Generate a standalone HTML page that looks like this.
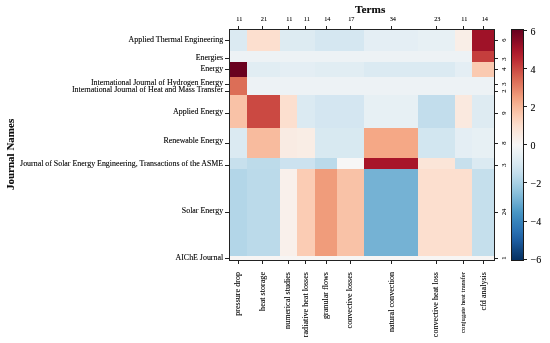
<!DOCTYPE html><html><head><meta charset="utf-8"><style>
html,body{margin:0;padding:0;background:#fff;}
body{width:550px;height:343px;position:relative;overflow:hidden;font-family:"Liberation Serif","Times New Roman",serif;color:#000;}
.c{position:absolute;}
.t{position:absolute;white-space:nowrap;line-height:1;color:#111;text-shadow:0 0 0.4px rgba(0,0,0,0.45);}
.tk{position:absolute;background:#222;}
</style></head><body>
<div class="c" style="left:229.00px;top:29.40px;width:17.80px;height:21.90px;background:#dbeaf2"></div>
<div class="c" style="left:246.50px;top:29.40px;width:33.60px;height:21.90px;background:#fcdfcf"></div>
<div class="c" style="left:279.80px;top:29.40px;width:17.80px;height:21.90px;background:#ddebf2"></div>
<div class="c" style="left:297.30px;top:29.40px;width:18.00px;height:21.90px;background:#ddebf2"></div>
<div class="c" style="left:315.00px;top:29.40px;width:22.30px;height:21.90px;background:#d5e7f1"></div>
<div class="c" style="left:337.00px;top:29.40px;width:27.50px;height:21.90px;background:#d5e7f1"></div>
<div class="c" style="left:364.20px;top:29.40px;width:54.20px;height:21.90px;background:#e4eef4"></div>
<div class="c" style="left:418.10px;top:29.40px;width:36.80px;height:21.90px;background:#e7f0f4"></div>
<div class="c" style="left:454.60px;top:29.40px;width:18.10px;height:21.90px;background:#f9eee7"></div>
<div class="c" style="left:472.40px;top:29.40px;width:22.70px;height:21.90px;background:#9f1228"></div>
<div class="c" style="left:229.00px;top:51.00px;width:17.80px;height:11.60px;background:#edf2f5"></div>
<div class="c" style="left:246.50px;top:51.00px;width:33.60px;height:11.60px;background:#edf2f5"></div>
<div class="c" style="left:279.80px;top:51.00px;width:17.80px;height:11.60px;background:#edf2f5"></div>
<div class="c" style="left:297.30px;top:51.00px;width:18.00px;height:11.60px;background:#edf2f5"></div>
<div class="c" style="left:315.00px;top:51.00px;width:22.30px;height:11.60px;background:#edf2f5"></div>
<div class="c" style="left:337.00px;top:51.00px;width:27.50px;height:11.60px;background:#edf2f5"></div>
<div class="c" style="left:364.20px;top:51.00px;width:54.20px;height:11.60px;background:#edf2f5"></div>
<div class="c" style="left:418.10px;top:51.00px;width:36.80px;height:11.60px;background:#edf2f5"></div>
<div class="c" style="left:454.60px;top:51.00px;width:18.10px;height:11.60px;background:#edf2f5"></div>
<div class="c" style="left:472.40px;top:51.00px;width:22.70px;height:11.60px;background:#c53e3d"></div>
<div class="c" style="left:229.00px;top:62.30px;width:17.80px;height:14.80px;background:#6a011f"></div>
<div class="c" style="left:246.50px;top:62.30px;width:33.60px;height:14.80px;background:#e1edf3"></div>
<div class="c" style="left:279.80px;top:62.30px;width:17.80px;height:14.80px;background:#e4eef4"></div>
<div class="c" style="left:297.30px;top:62.30px;width:18.00px;height:14.80px;background:#e4eef4"></div>
<div class="c" style="left:315.00px;top:62.30px;width:22.30px;height:14.80px;background:#e1edf3"></div>
<div class="c" style="left:337.00px;top:62.30px;width:27.50px;height:14.80px;background:#e1edf3"></div>
<div class="c" style="left:364.20px;top:62.30px;width:54.20px;height:14.80px;background:#dbeaf2"></div>
<div class="c" style="left:418.10px;top:62.30px;width:36.80px;height:14.80px;background:#dbeaf2"></div>
<div class="c" style="left:454.60px;top:62.30px;width:18.10px;height:14.80px;background:#e4eef4"></div>
<div class="c" style="left:472.40px;top:62.30px;width:22.70px;height:14.80px;background:#facab1"></div>
<div class="c" style="left:229.00px;top:76.80px;width:17.80px;height:11.50px;background:#dc6e57"></div>
<div class="c" style="left:246.50px;top:76.80px;width:33.60px;height:11.50px;background:#edf2f5"></div>
<div class="c" style="left:279.80px;top:76.80px;width:17.80px;height:11.50px;background:#edf2f5"></div>
<div class="c" style="left:297.30px;top:76.80px;width:18.00px;height:11.50px;background:#edf2f5"></div>
<div class="c" style="left:315.00px;top:76.80px;width:22.30px;height:11.50px;background:#edf2f5"></div>
<div class="c" style="left:337.00px;top:76.80px;width:27.50px;height:11.50px;background:#edf2f5"></div>
<div class="c" style="left:364.20px;top:76.80px;width:54.20px;height:11.50px;background:#edf2f5"></div>
<div class="c" style="left:418.10px;top:76.80px;width:36.80px;height:11.50px;background:#edf2f5"></div>
<div class="c" style="left:454.60px;top:76.80px;width:18.10px;height:11.50px;background:#edf2f5"></div>
<div class="c" style="left:472.40px;top:76.80px;width:22.70px;height:11.50px;background:#edf2f5"></div>
<div class="c" style="left:229.00px;top:88.00px;width:17.80px;height:7.50px;background:#dc6e57"></div>
<div class="c" style="left:246.50px;top:88.00px;width:33.60px;height:7.50px;background:#edf2f5"></div>
<div class="c" style="left:279.80px;top:88.00px;width:17.80px;height:7.50px;background:#edf2f5"></div>
<div class="c" style="left:297.30px;top:88.00px;width:18.00px;height:7.50px;background:#edf2f5"></div>
<div class="c" style="left:315.00px;top:88.00px;width:22.30px;height:7.50px;background:#edf2f5"></div>
<div class="c" style="left:337.00px;top:88.00px;width:27.50px;height:7.50px;background:#edf2f5"></div>
<div class="c" style="left:364.20px;top:88.00px;width:54.20px;height:7.50px;background:#edf2f5"></div>
<div class="c" style="left:418.10px;top:88.00px;width:36.80px;height:7.50px;background:#edf2f5"></div>
<div class="c" style="left:454.60px;top:88.00px;width:18.10px;height:7.50px;background:#edf2f5"></div>
<div class="c" style="left:472.40px;top:88.00px;width:22.70px;height:7.50px;background:#edf2f5"></div>
<div class="c" style="left:229.00px;top:95.20px;width:17.80px;height:33.20px;background:#f9c2a7"></div>
<div class="c" style="left:246.50px;top:95.20px;width:33.60px;height:33.20px;background:#cb4942"></div>
<div class="c" style="left:279.80px;top:95.20px;width:17.80px;height:33.20px;background:#fcdfcf"></div>
<div class="c" style="left:297.30px;top:95.20px;width:18.00px;height:33.20px;background:#dbeaf2"></div>
<div class="c" style="left:315.00px;top:95.20px;width:22.30px;height:33.20px;background:#d4e6f1"></div>
<div class="c" style="left:337.00px;top:95.20px;width:27.50px;height:33.20px;background:#d4e6f1"></div>
<div class="c" style="left:364.20px;top:95.20px;width:54.20px;height:33.20px;background:#e7f0f4"></div>
<div class="c" style="left:418.10px;top:95.20px;width:36.80px;height:33.20px;background:#c2ddec"></div>
<div class="c" style="left:454.60px;top:95.20px;width:18.10px;height:33.20px;background:#fae9df"></div>
<div class="c" style="left:472.40px;top:95.20px;width:22.70px;height:33.20px;background:#deebf2"></div>
<div class="c" style="left:229.00px;top:128.10px;width:17.80px;height:30.00px;background:#dbeaf2"></div>
<div class="c" style="left:246.50px;top:128.10px;width:33.60px;height:30.00px;background:#f8bb9e"></div>
<div class="c" style="left:279.80px;top:128.10px;width:17.80px;height:30.00px;background:#f9ebe3"></div>
<div class="c" style="left:297.30px;top:128.10px;width:18.00px;height:30.00px;background:#f9ede5"></div>
<div class="c" style="left:315.00px;top:128.10px;width:22.30px;height:30.00px;background:#d8e9f1"></div>
<div class="c" style="left:337.00px;top:128.10px;width:27.50px;height:30.00px;background:#d8e9f1"></div>
<div class="c" style="left:364.20px;top:128.10px;width:54.20px;height:30.00px;background:#f5a886"></div>
<div class="c" style="left:418.10px;top:128.10px;width:36.80px;height:30.00px;background:#d2e6f0"></div>
<div class="c" style="left:454.60px;top:128.10px;width:18.10px;height:30.00px;background:#e4eef4"></div>
<div class="c" style="left:472.40px;top:128.10px;width:22.70px;height:30.00px;background:#e7f0f4"></div>
<div class="c" style="left:229.00px;top:157.80px;width:17.80px;height:11.00px;background:#c7e0ed"></div>
<div class="c" style="left:246.50px;top:157.80px;width:33.60px;height:11.00px;background:#bddbea"></div>
<div class="c" style="left:279.80px;top:157.80px;width:17.80px;height:11.00px;background:#cce2ef"></div>
<div class="c" style="left:297.30px;top:157.80px;width:18.00px;height:11.00px;background:#cce2ef"></div>
<div class="c" style="left:315.00px;top:157.80px;width:22.30px;height:11.00px;background:#bbdaea"></div>
<div class="c" style="left:337.00px;top:157.80px;width:27.50px;height:11.00px;background:#f7f6f6"></div>
<div class="c" style="left:364.20px;top:157.80px;width:54.20px;height:11.00px;background:#a81529"></div>
<div class="c" style="left:418.10px;top:157.80px;width:36.80px;height:11.00px;background:#fbe5d8"></div>
<div class="c" style="left:454.60px;top:157.80px;width:18.10px;height:11.00px;background:#c7e0ed"></div>
<div class="c" style="left:472.40px;top:157.80px;width:22.70px;height:11.00px;background:#dbeaf2"></div>
<div class="c" style="left:229.00px;top:168.50px;width:17.80px;height:88.10px;background:#b3d6e8"></div>
<div class="c" style="left:246.50px;top:168.50px;width:33.60px;height:88.10px;background:#bbdaea"></div>
<div class="c" style="left:279.80px;top:168.50px;width:17.80px;height:88.10px;background:#f9f0eb"></div>
<div class="c" style="left:297.30px;top:168.50px;width:18.00px;height:88.10px;background:#fbccb4"></div>
<div class="c" style="left:315.00px;top:168.50px;width:22.30px;height:88.10px;background:#f09c7b"></div>
<div class="c" style="left:337.00px;top:168.50px;width:27.50px;height:88.10px;background:#f9c2a7"></div>
<div class="c" style="left:364.20px;top:168.50px;width:54.20px;height:88.10px;background:#75b2d4"></div>
<div class="c" style="left:418.10px;top:168.50px;width:36.80px;height:88.10px;background:#fcdfcf"></div>
<div class="c" style="left:454.60px;top:168.50px;width:18.10px;height:88.10px;background:#fcdfcf"></div>
<div class="c" style="left:472.40px;top:168.50px;width:22.70px;height:88.10px;background:#c5dfec"></div>
<div class="c" style="left:229.00px;top:256.30px;width:17.80px;height:4.00px;background:#f7f5f4"></div>
<div class="c" style="left:246.50px;top:256.30px;width:33.60px;height:4.00px;background:#f7f5f4"></div>
<div class="c" style="left:279.80px;top:256.30px;width:17.80px;height:4.00px;background:#f7f5f4"></div>
<div class="c" style="left:297.30px;top:256.30px;width:18.00px;height:4.00px;background:#f7f5f4"></div>
<div class="c" style="left:315.00px;top:256.30px;width:22.30px;height:4.00px;background:#f7f5f4"></div>
<div class="c" style="left:337.00px;top:256.30px;width:27.50px;height:4.00px;background:#f7f5f4"></div>
<div class="c" style="left:364.20px;top:256.30px;width:54.20px;height:4.00px;background:#f7f5f4"></div>
<div class="c" style="left:418.10px;top:256.30px;width:36.80px;height:4.00px;background:#f7f5f4"></div>
<div class="c" style="left:454.60px;top:256.30px;width:18.10px;height:4.00px;background:#f7f5f4"></div>
<div class="c" style="left:472.40px;top:256.30px;width:22.70px;height:4.00px;background:#f7f5f4"></div>
<div class="tk" style="left:228.50px;top:28.90px;width:266.80px;height:1.0px"></div>
<div class="tk" style="left:228.50px;top:259.50px;width:266.80px;height:1.0px"></div>
<div class="tk" style="left:228.50px;top:28.90px;width:1.0px;height:231.60px"></div>
<div class="tk" style="left:494.30px;top:28.90px;width:1.0px;height:231.60px"></div>
<div class="tk" style="left:237.60px;top:25.90px;width:0.8px;height:3.5px"></div>
<div class="tk" style="left:237.60px;top:260.50px;width:0.8px;height:3.5px"></div>
<div class="t" style="left:219.30px;width:40px;text-align:center;top:15.64px;font-size:6.3px">11</div>
<div class="t" style="left:238.30px;top:272.2px;font-size:8.1px;transform-origin:0 0;transform:rotate(-90deg) translate(-100%,-50%);line-height:1.15">pressure drop</div>
<div class="tk" style="left:262.20px;top:25.90px;width:0.8px;height:3.5px"></div>
<div class="tk" style="left:262.20px;top:260.50px;width:0.8px;height:3.5px"></div>
<div class="t" style="left:243.90px;width:40px;text-align:center;top:15.64px;font-size:6.3px">21</div>
<div class="t" style="left:262.90px;top:272.2px;font-size:8.1px;transform-origin:0 0;transform:rotate(-90deg) translate(-100%,-50%);line-height:1.15">heat storage</div>
<div class="tk" style="left:287.60px;top:25.90px;width:0.8px;height:3.5px"></div>
<div class="tk" style="left:287.60px;top:260.50px;width:0.8px;height:3.5px"></div>
<div class="t" style="left:269.30px;width:40px;text-align:center;top:15.64px;font-size:6.3px">11</div>
<div class="t" style="left:288.30px;top:272.2px;font-size:8.1px;transform-origin:0 0;transform:rotate(-90deg) translate(-100%,-50%);line-height:1.15">numerical studies</div>
<div class="tk" style="left:305.10px;top:25.90px;width:0.8px;height:3.5px"></div>
<div class="tk" style="left:305.10px;top:260.50px;width:0.8px;height:3.5px"></div>
<div class="t" style="left:286.80px;width:40px;text-align:center;top:15.64px;font-size:6.3px">11</div>
<div class="t" style="left:305.80px;top:272.2px;font-size:8.1px;transform-origin:0 0;transform:rotate(-90deg) translate(-100%,-50%);line-height:1.15">radiative heat losses</div>
<div class="tk" style="left:325.60px;top:25.90px;width:0.8px;height:3.5px"></div>
<div class="tk" style="left:325.60px;top:260.50px;width:0.8px;height:3.5px"></div>
<div class="t" style="left:307.30px;width:40px;text-align:center;top:15.64px;font-size:6.3px">14</div>
<div class="t" style="left:326.30px;top:272.2px;font-size:8.1px;transform-origin:0 0;transform:rotate(-90deg) translate(-100%,-50%);line-height:1.15">granular flows</div>
<div class="tk" style="left:349.60px;top:25.90px;width:0.8px;height:3.5px"></div>
<div class="tk" style="left:349.60px;top:260.50px;width:0.8px;height:3.5px"></div>
<div class="t" style="left:331.30px;width:40px;text-align:center;top:15.64px;font-size:6.3px">17</div>
<div class="t" style="left:350.30px;top:272.2px;font-size:8.1px;transform-origin:0 0;transform:rotate(-90deg) translate(-100%,-50%);line-height:1.15">convective losses</div>
<div class="tk" style="left:391.10px;top:25.90px;width:0.8px;height:3.5px"></div>
<div class="tk" style="left:391.10px;top:260.50px;width:0.8px;height:3.5px"></div>
<div class="t" style="left:372.80px;width:40px;text-align:center;top:15.64px;font-size:6.3px">34</div>
<div class="t" style="left:391.80px;top:272.2px;font-size:8.1px;transform-origin:0 0;transform:rotate(-90deg) translate(-100%,-50%);line-height:1.15">natural convection</div>
<div class="tk" style="left:435.60px;top:25.90px;width:0.8px;height:3.5px"></div>
<div class="tk" style="left:435.60px;top:260.50px;width:0.8px;height:3.5px"></div>
<div class="t" style="left:417.30px;width:40px;text-align:center;top:15.64px;font-size:6.3px">23</div>
<div class="t" style="left:436.30px;top:272.2px;font-size:8.1px;transform-origin:0 0;transform:rotate(-90deg) translate(-100%,-50%);line-height:1.15">convective heat loss</div>
<div class="tk" style="left:462.60px;top:25.90px;width:0.8px;height:3.5px"></div>
<div class="tk" style="left:462.60px;top:260.50px;width:0.8px;height:3.5px"></div>
<div class="t" style="left:444.30px;width:40px;text-align:center;top:15.64px;font-size:6.3px">11</div>
<div class="t" style="left:463.30px;top:272.2px;font-size:6.7px;transform-origin:0 0;transform:rotate(-90deg) translate(-100%,-50%);line-height:1.15">conjugate heat transfer</div>
<div class="tk" style="left:483.10px;top:25.90px;width:0.8px;height:3.5px"></div>
<div class="tk" style="left:483.10px;top:260.50px;width:0.8px;height:3.5px"></div>
<div class="t" style="left:464.80px;width:40px;text-align:center;top:15.64px;font-size:6.3px">14</div>
<div class="t" style="left:483.80px;top:272.2px;font-size:8.1px;transform-origin:0 0;transform:rotate(-90deg) translate(-100%,-50%);line-height:1.15">cfd analysis</div>
<div class="tk" style="left:225.20px;top:40.00px;width:3.5px;height:0.8px"></div>
<div class="tk" style="left:495.20px;top:40.00px;width:3.0px;height:0.8px"></div>
<div class="t" style="right:326.90px;top:35.78px;font-size:7.9px">Applied Thermal Engineering</div>
<div class="t" style="left:504.3px;top:40.40px;font-size:6.6px;transform:translate(-50%,-50%) rotate(-90deg)">6</div>
<div class="tk" style="left:225.20px;top:58.30px;width:3.5px;height:0.8px"></div>
<div class="tk" style="left:495.20px;top:58.30px;width:3.0px;height:0.8px"></div>
<div class="t" style="right:326.90px;top:54.08px;font-size:7.9px">Energies</div>
<div class="t" style="left:504.3px;top:58.70px;font-size:6.6px;transform:translate(-50%,-50%) rotate(-90deg)">3</div>
<div class="tk" style="left:225.20px;top:69.00px;width:3.5px;height:0.8px"></div>
<div class="tk" style="left:495.20px;top:69.00px;width:3.0px;height:0.8px"></div>
<div class="t" style="right:326.90px;top:65.38px;font-size:7.9px">Energy</div>
<div class="t" style="left:504.3px;top:69.40px;font-size:6.6px;transform:translate(-50%,-50%) rotate(-90deg)">4</div>
<div class="tk" style="left:225.20px;top:83.60px;width:3.5px;height:0.8px"></div>
<div class="tk" style="left:495.20px;top:83.60px;width:3.0px;height:0.8px"></div>
<div class="t" style="right:326.90px;top:78.88px;font-size:7.9px">International Journal of Hydrogen Energy</div>
<div class="t" style="left:504.3px;top:84.00px;font-size:6.6px;transform:translate(-50%,-50%) rotate(-90deg)">3</div>
<div class="tk" style="left:225.20px;top:91.00px;width:3.5px;height:0.8px"></div>
<div class="tk" style="left:495.20px;top:91.00px;width:3.0px;height:0.8px"></div>
<div class="t" style="right:326.90px;top:86.48px;font-size:7.9px">International Journal of Heat and Mass Transfer</div>
<div class="t" style="left:504.3px;top:91.40px;font-size:6.6px;transform:translate(-50%,-50%) rotate(-90deg)">2</div>
<div class="tk" style="left:225.20px;top:112.80px;width:3.5px;height:0.8px"></div>
<div class="tk" style="left:495.20px;top:112.80px;width:3.0px;height:0.8px"></div>
<div class="t" style="right:326.90px;top:108.08px;font-size:7.9px">Applied Energy</div>
<div class="t" style="left:504.3px;top:113.20px;font-size:6.6px;transform:translate(-50%,-50%) rotate(-90deg)">9</div>
<div class="tk" style="left:225.20px;top:142.50px;width:3.5px;height:0.8px"></div>
<div class="tk" style="left:495.20px;top:142.50px;width:3.0px;height:0.8px"></div>
<div class="t" style="right:326.90px;top:137.18px;font-size:7.9px">Renewable Energy</div>
<div class="t" style="left:504.3px;top:142.90px;font-size:6.6px;transform:translate(-50%,-50%) rotate(-90deg)">8</div>
<div class="tk" style="left:225.20px;top:164.80px;width:3.5px;height:0.8px"></div>
<div class="tk" style="left:495.20px;top:164.80px;width:3.0px;height:0.8px"></div>
<div class="t" style="right:326.90px;top:159.88px;font-size:7.9px">Journal of Solar Energy Engineering, Transactions of the ASME</div>
<div class="t" style="left:504.3px;top:165.20px;font-size:6.6px;transform:translate(-50%,-50%) rotate(-90deg)">3</div>
<div class="tk" style="left:225.20px;top:211.90px;width:3.5px;height:0.8px"></div>
<div class="tk" style="left:495.20px;top:211.90px;width:3.0px;height:0.8px"></div>
<div class="t" style="right:326.90px;top:206.88px;font-size:7.9px">Solar Energy</div>
<div class="t" style="left:504.3px;top:212.30px;font-size:6.6px;transform:translate(-50%,-50%) rotate(-90deg)">24</div>
<div class="tk" style="left:225.20px;top:257.90px;width:3.5px;height:0.8px"></div>
<div class="tk" style="left:495.20px;top:257.90px;width:3.0px;height:0.8px"></div>
<div class="t" style="right:326.90px;top:253.68px;font-size:7.9px">AIChE Journal</div>
<div class="t" style="left:504.3px;top:258.30px;font-size:6.6px;transform:translate(-50%,-50%) rotate(-90deg)">1</div>
<div class="c" style="left:511.00px;top:29.20px;width:13.20px;height:231.40px;background:linear-gradient(to bottom,#67001f 0.00%,#840924 4.17%,#a51429 8.33%,#ba2832 12.50%,#c94741 16.67%,#d86551 20.83%,#e48066 25.00%,#f19e7d 29.17%,#f7b799 33.33%,#fbccb4 37.50%,#fcdfcf 41.67%,#f9ebe3 45.83%,#f7f6f6 50.00%,#e7f0f4 54.17%,#d7e8f1 58.33%,#c2ddec 62.50%,#a7d0e4 66.67%,#8ac0db 70.83%,#6bacd1 75.00%,#4997c5 79.17%,#3783bb 83.33%,#2a71b2 87.50%,#1c5c9f 91.67%,#10457e 95.83%,#053061 100.00%);box-sizing:border-box;border:0.8px solid #1a1a1a"></div>
<div class="tk" style="left:524.20px;top:30.05px;width:2.9px;height:0.9px"></div>
<div class="t" style="left:530.6px;top:26.52px;font-size:10px">6</div>
<div class="tk" style="left:524.20px;top:68.15px;width:2.9px;height:0.9px"></div>
<div class="t" style="left:530.6px;top:64.63px;font-size:10px">4</div>
<div class="tk" style="left:524.20px;top:106.25px;width:2.9px;height:0.9px"></div>
<div class="t" style="left:530.6px;top:102.73px;font-size:10px">2</div>
<div class="tk" style="left:524.20px;top:144.35px;width:2.9px;height:0.9px"></div>
<div class="t" style="left:530.6px;top:140.83px;font-size:10px">0</div>
<div class="tk" style="left:524.20px;top:182.45px;width:2.9px;height:0.9px"></div>
<div class="t" style="left:530.6px;top:178.93px;font-size:10px">−2</div>
<div class="tk" style="left:524.20px;top:220.55px;width:2.9px;height:0.9px"></div>
<div class="t" style="left:530.6px;top:217.03px;font-size:10px">−4</div>
<div class="tk" style="left:524.20px;top:258.65px;width:2.9px;height:0.9px"></div>
<div class="t" style="left:530.6px;top:255.12px;font-size:10px">−6</div>
<div class="t" style="left:355.1px;top:4.0px;font-size:11.25px;font-weight:bold">Terms</div>
<div class="t" style="left:4.6px;top:189.6px;font-size:11px;font-weight:bold;transform-origin:0 0;transform:rotate(-90deg)">Journal Names</div>
</body></html>
